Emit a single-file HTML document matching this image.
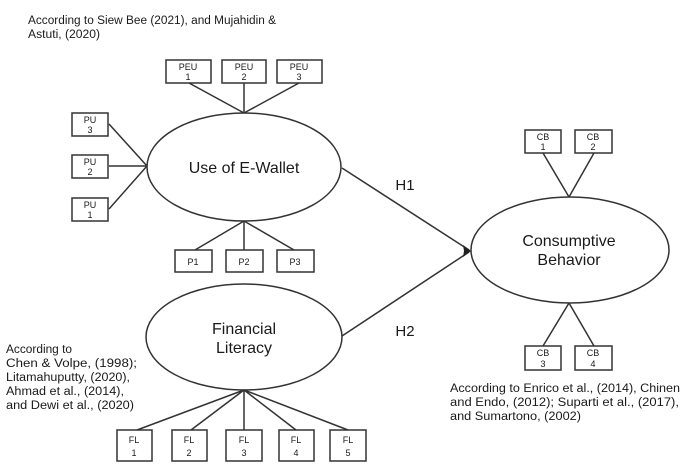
<!DOCTYPE html>
<html><head><style>
html,body{margin:0;padding:0;background:#fff;}
svg{display:block;}
text{font-family:"Liberation Sans",Arial,sans-serif;fill:#1a1a1a;}
.s{font-size:9px;}
.c{font-size:11.5px;}
.b{font-size:16px;}
</style></head><body>
<svg width="685" height="473" viewBox="0 0 685 473" xmlns="http://www.w3.org/2000/svg">
<g stroke="#333" stroke-width="1.5" fill="none">
<ellipse cx="244" cy="167" rx="97" ry="54"/>
<ellipse cx="244" cy="337" rx="98" ry="53"/>
<ellipse cx="570" cy="250" rx="99" ry="53"/>
<rect x="166" y="60" width="45" height="23"/>
<rect x="222" y="60" width="44" height="23"/>
<rect x="277" y="60" width="45" height="23"/>
<line x1="189" y1="83" x2="244" y2="113"/>
<line x1="244" y1="83" x2="244" y2="113"/>
<line x1="299" y1="83" x2="244" y2="113"/>
<rect x="72" y="113" width="36" height="23"/>
<rect x="72" y="155" width="36" height="23"/>
<rect x="72" y="198" width="36" height="23"/>
<line x1="109" y1="124" x2="147" y2="166"/>
<line x1="109" y1="166" x2="147" y2="166"/>
<line x1="109" y1="209" x2="147" y2="166"/>
<rect x="175" y="250" width="37" height="22"/>
<rect x="226" y="250" width="37" height="22"/>
<rect x="277" y="250" width="37" height="22"/>
<line x1="195" y1="250" x2="244" y2="221"/>
<line x1="244" y1="250" x2="244" y2="221"/>
<line x1="294" y1="250" x2="244" y2="221"/>
<rect x="117" y="430" width="35" height="31"/>
<rect x="172" y="430" width="35" height="31"/>
<rect x="226" y="430" width="36" height="31"/>
<rect x="279" y="430" width="35" height="31"/>
<rect x="330" y="430" width="36" height="31"/>
<line x1="137" y1="430" x2="244" y2="390"/>
<line x1="191" y1="430" x2="244" y2="390"/>
<line x1="244" y1="430" x2="244" y2="390"/>
<line x1="296" y1="430" x2="244" y2="390"/>
<line x1="348" y1="430" x2="244" y2="390"/>
<rect x="525" y="130" width="36" height="23"/>
<rect x="575" y="130" width="37" height="23"/>
<rect x="525" y="346" width="36" height="24"/>
<rect x="575" y="346" width="37" height="24"/>
<line x1="543" y1="153" x2="569" y2="197"/>
<line x1="594" y1="153" x2="569" y2="197"/>
<line x1="543" y1="346" x2="569" y2="303"/>
<line x1="594" y1="346" x2="569" y2="303"/>
<line x1="342" y1="168" x2="469" y2="250"/>
<line x1="342" y1="336" x2="469" y2="252"/>
</g>
<path d="M471,251 L463,245 L464,251 L463,257 Z" fill="#222"/>
<g class="s" text-anchor="middle">
<text x="188" y="70">PEU</text><text x="188" y="80">1</text>
<text x="244" y="70">PEU</text><text x="244" y="80">2</text>
<text x="299" y="70">PEU</text><text x="299" y="80">3</text>
<text x="90" y="123">PU</text><text x="90" y="133">3</text>
<text x="90" y="165">PU</text><text x="90" y="175">2</text>
<text x="90" y="208">PU</text><text x="90" y="218">1</text>
<text x="193" y="265">P1</text>
<text x="244" y="265">P2</text>
<text x="295" y="265">P3</text>
<text x="134" y="443">FL</text><text x="134" y="456">1</text>
<text x="189" y="443">FL</text><text x="189" y="456">2</text>
<text x="244" y="443">FL</text><text x="244" y="456">3</text>
<text x="296" y="443">FL</text><text x="296" y="456">4</text>
<text x="348" y="443">FL</text><text x="348" y="456">5</text>
<text x="543" y="140">CB</text><text x="543" y="150">1</text>
<text x="593" y="140">CB</text><text x="593" y="150">2</text>
<text x="543" y="356">CB</text><text x="543" y="367">3</text>
<text x="593" y="356">CB</text><text x="593" y="367">4</text>
</g>
<g class="b" text-anchor="middle">
<text x="244" y="173">Use of E-Wallet</text>
<text x="244" y="334">Financial</text>
<text x="244" y="353">Literacy</text>
<text x="569" y="246">Consumptive</text>
<text x="569" y="265">Behavior</text>
<text x="405" y="190" font-size="15">H1</text>
<text x="405" y="336" font-size="15">H2</text>
</g>
<g class="c">
<text x="28" y="24" textLength="248" lengthAdjust="spacingAndGlyphs">According to Siew Bee (2021), and Mujahidin &amp;</text>
<text x="28" y="38" textLength="72" lengthAdjust="spacingAndGlyphs">Astuti, (2020)</text>
<text x="6" y="353" textLength="66" lengthAdjust="spacingAndGlyphs">According to</text>
<text x="6" y="367" textLength="131" lengthAdjust="spacingAndGlyphs">Chen &amp; Volpe, (1998);</text>
<text x="6" y="381" textLength="124" lengthAdjust="spacingAndGlyphs">Litamahuputty, (2020),</text>
<text x="6" y="395" textLength="118" lengthAdjust="spacingAndGlyphs">Ahmad et al., (2014),</text>
<text x="6" y="409" textLength="128" lengthAdjust="spacingAndGlyphs">and Dewi et al., (2020)</text>
<text x="450" y="392" textLength="230" lengthAdjust="spacingAndGlyphs">According to Enrico et al., (2014), Chinen</text>
<text x="450" y="406" textLength="229" lengthAdjust="spacingAndGlyphs">and Endo, (2012); Suparti et al., (2017),</text>
<text x="450" y="420" textLength="131" lengthAdjust="spacingAndGlyphs">and  Sumartono, (2002)</text>
</g>
</svg>
</body></html>
